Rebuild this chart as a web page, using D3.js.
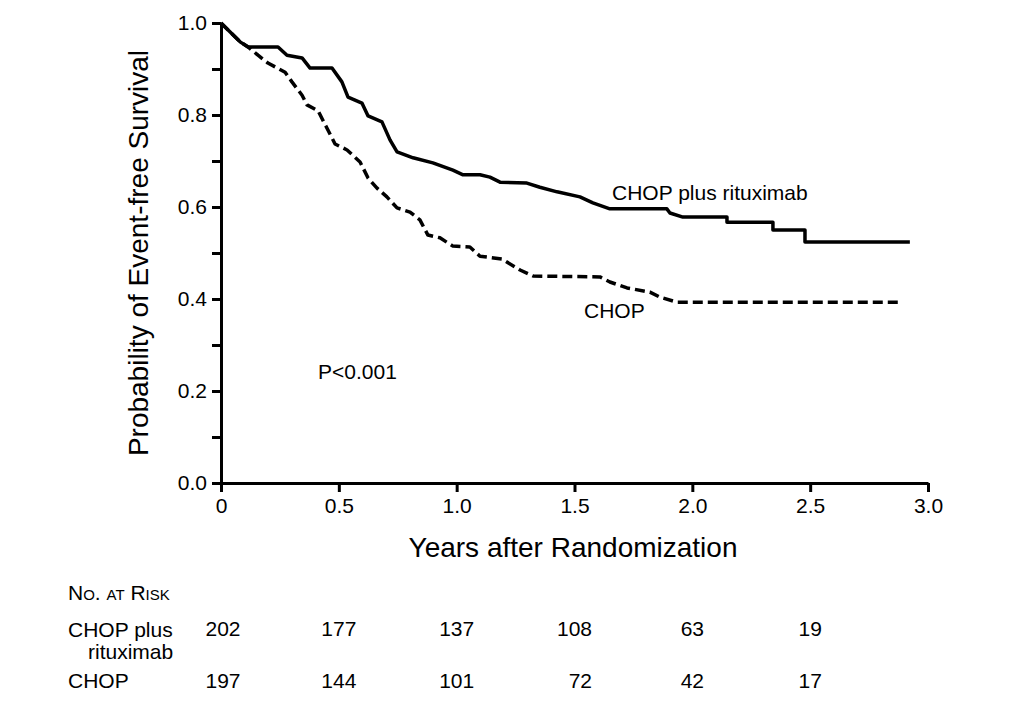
<!DOCTYPE html>
<html lang="en">
<head>
    <meta charset="UTF-8">
    <title>Event-free Survival</title>
    <script src="https://d3js.org/d3.v7.min.js"></script>
    <style>
        body { margin: 0; background: #fff; }
        svg text { font-family: "Liberation Sans", Arial, sans-serif; fill: #000; }
    </style>
</head>
<body>
<svg id="chart"></svg>
<script>
    // Kaplan-Meier curves (years, survival)
    const ritTimes = [0, 0.081, 0.115, 0.242, 0.280, 0.344, 0.378, 0.471, 0.513, 0.539, 0.598, 0.624, 0.683, 0.717, 0.747, 0.815, 0.899, 0.984, 1.027, 1.099, 1.141, 1.184, 1.298, 1.353, 1.426, 1.523, 1.578, 1.650, 1.892, 1.905, 1.960, 2.147, 2.147, 2.342, 2.342, 2.478, 2.478, 2.923];
    const ritSurv  = [1.0, 0.959, 0.948, 0.948, 0.930, 0.924, 0.902, 0.902, 0.872, 0.839, 0.826, 0.798, 0.785, 0.746, 0.720, 0.707, 0.696, 0.680, 0.670, 0.670, 0.665, 0.654, 0.652, 0.643, 0.633, 0.622, 0.609, 0.596, 0.596, 0.587, 0.578, 0.578, 0.567, 0.567, 0.550, 0.550, 0.524, 0.524];

    const chopTimes = [0, 0.081, 0.115, 0.157, 0.199, 0.272, 0.301, 0.344, 0.365, 0.412, 0.445, 0.484, 0.535, 0.590, 0.624, 0.662, 0.704, 0.747, 0.802, 0.844, 0.878, 0.929, 0.984, 1.056, 1.099, 1.192, 1.269, 1.324, 1.608, 1.650, 1.723, 1.820, 1.863, 1.935, 2.872];
    const chopSurv  = [1.0, 0.959, 0.948, 0.930, 0.913, 0.893, 0.872, 0.843, 0.822, 0.809, 0.776, 0.737, 0.724, 0.698, 0.663, 0.641, 0.622, 0.598, 0.589, 0.572, 0.539, 0.533, 0.515, 0.513, 0.493, 0.487, 0.463, 0.450, 0.448, 0.437, 0.424, 0.415, 0.404, 0.393, 0.393];

    const xTicks = [0, 0.5, 1.0, 1.5, 2.0, 2.5, 3.0];
    const xTickLabels = ["0", "0.5", "1.0", "1.5", "2.0", "2.5", "3.0"];
    const yTicks = [0, 0.1, 0.2, 0.3, 0.4, 0.5, 0.6, 0.7, 0.8, 0.9, 1.0];
    const yTickLabels = ["0.0", "", "0.2", "", "0.4", "", "0.6", "", "0.8", "", "1.0"];

    const riskTimes = [0, 0.5, 1.0, 1.5, 2.0, 2.5];
    const riskRit  = [202, 177, 137, 108, 63, 19];
    const riskChop = [197, 144, 101, 72, 42, 17];

    const width = 1022, height = 701;
    const svg = d3.select("#chart").attr("width", width).attr("height", height);

    const x = d3.scaleLinear().domain([0, 3]).range([221, 928]);
    const y = d3.scaleLinear().domain([0, 1]).range([483, 23]);

    // axes
    const xAxis = svg.append("g")
        .attr("transform", "translate(0," + y(0) + ")")
        .call(d3.axisBottom(x).tickValues(xTicks)
            .tickFormat((d, i) => xTickLabels[i])
            .tickSize(9).tickSizeOuter(0).tickPadding(6));

    const yAxis = svg.append("g")
        .attr("transform", "translate(" + x(0) + ",0)")
        .call(d3.axisLeft(y).tickValues(yTicks)
            .tickFormat((d, i) => yTickLabels[i])
            .tickSize(9).tickSizeOuter(0).tickPadding(5));

    [xAxis, yAxis].forEach(function(g) {
        g.select(".domain").attr("stroke", "#000").attr("stroke-width", 3);
        g.selectAll(".tick line").attr("stroke", "#000").attr("stroke-width", 3);
        g.selectAll(".tick text")
            .attr("font-size", 21)
            .attr("font-family", "Liberation Sans, Arial, sans-serif")
            .attr("fill", "#000");
    });

    // axis titles
    svg.append("text")
        .attr("transform", "translate(148," + y(0.5) + ") rotate(-90)")
        .attr("text-anchor", "middle")
        .attr("font-size", 28)
        .text("Probability of Event-free Survival");

    svg.append("text")
        .attr("x", 573).attr("y", 557)
        .attr("text-anchor", "middle")
        .attr("font-size", 28)
        .text("Years after Randomization");

    // curves
    const line = d3.line()
        .x(d => x(d[0]))
        .y(d => y(d[1]));

    const ritData = ritTimes.map((t, i) => [t, ritSurv[i]]);
    const chopData = chopTimes.map((t, i) => [t, chopSurv[i]]);

    svg.append("path")
        .datum(chopData)
        .attr("fill", "none")
        .attr("stroke", "#000")
        .attr("stroke-width", 3.5)
        .attr("stroke-dasharray", "10,5")
        .attr("stroke-linejoin", "round")
        .attr("d", line);

    svg.append("path")
        .datum(ritData)
        .attr("fill", "none")
        .attr("stroke", "#000")
        .attr("stroke-width", 3.5)
        .attr("stroke-linejoin", "round")
        .attr("d", line);

    // annotations
    svg.append("text").attr("x", 612).attr("y", 200)
        .attr("font-size", 21).text("CHOP plus rituximab");
    svg.append("text").attr("x", 584).attr("y", 318)
        .attr("font-size", 21).text("CHOP");
    svg.append("text").attr("x", 318).attr("y", 379)
        .attr("font-size", 21).text("P<0.001");

    // number at risk table
    svg.append("text").attr("x", 68).attr("y", 600)
        .attr("font-size", 21)
        .attr("font-variant", "small-caps")
        .text("No. at Risk");

    svg.append("text").attr("x", 68).attr("y", 637)
        .attr("font-size", 21).text("CHOP plus");
    svg.append("text").attr("x", 88).attr("y", 659)
        .attr("font-size", 21).text("rituximab");
    svg.append("text").attr("x", 68).attr("y", 688)
        .attr("font-size", 21).text("CHOP");

    // pad numbers in a column to the same digit width so they line up like the source
    const colDigits = riskTimes.map((t, i) =>
        Math.max(String(riskRit[i]).length, String(riskChop[i]).length));
    const pad = (v, i) => String(v).padStart(colDigits[i], "\u2007");

    svg.append("g").selectAll("text")
        .data(riskRit)
        .join("text")
        .attr("x", (d, i) => x(riskTimes[i]) + (i === 0 ? 2 : 0))
        .attr("y", 636)
        .attr("text-anchor", "middle")
        .attr("font-size", 21)
        .text((d, i) => pad(d, i));

    svg.append("g").selectAll("text")
        .data(riskChop)
        .join("text")
        .attr("x", (d, i) => x(riskTimes[i]) + (i === 0 ? 2 : 0))
        .attr("y", 688)
        .attr("text-anchor", "middle")
        .attr("font-size", 21)
        .text((d, i) => pad(d, i));
</script>
</body>
</html>
